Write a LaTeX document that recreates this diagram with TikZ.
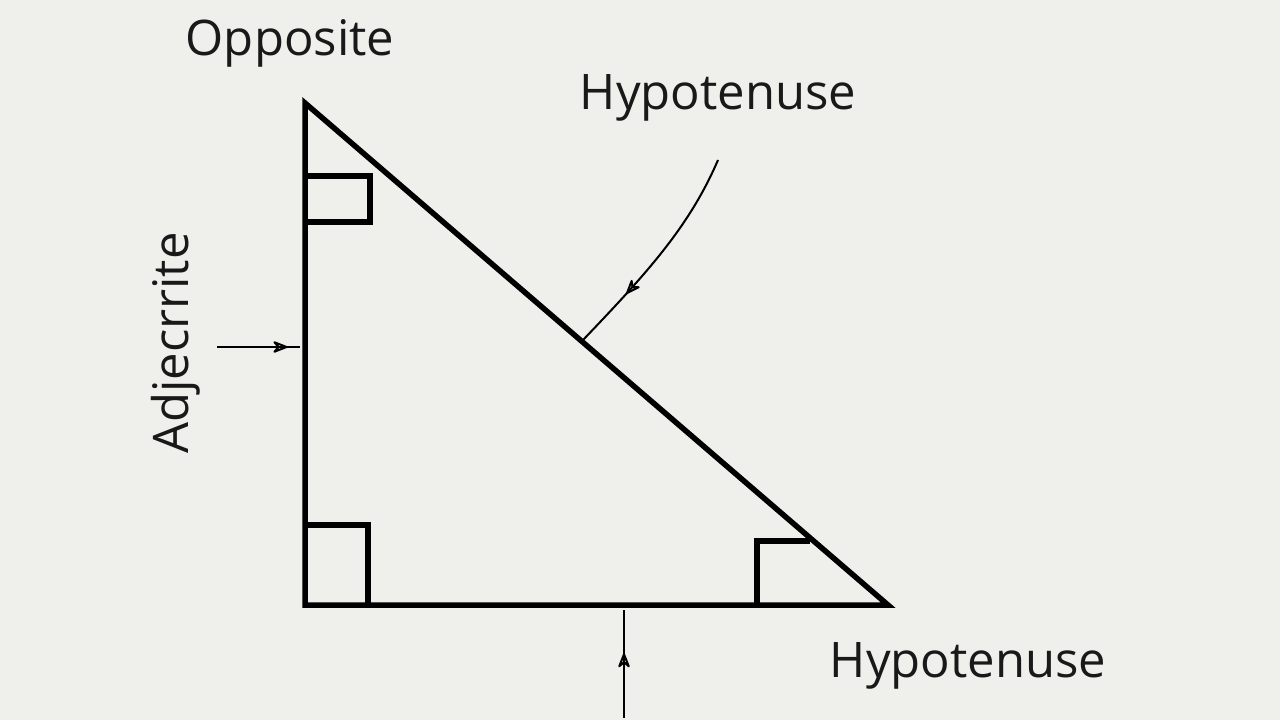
\documentclass[tikz,border=0pt]{standalone}
\usepackage{fontspec}
\setmainfont{Open Sans}
\usetikzlibrary{decorations.markings,arrows.meta}
\definecolor{bg}{HTML}{EFEFEC}
\begin{document}
\begin{tikzpicture}[x=1pt,y=-1pt,
  thick line/.style={line width=5.5pt,line join=miter},
  thin line/.style={line width=2pt},
  midarrow/.style={postaction={decorate},decoration={markings,mark=at position #1 with {\arrow{Stealth[length=18pt,width=14pt,open,round,line width=2pt]}}}},
  lbl/.style={font=\fontsize{49}{52}\selectfont,text=black!90}]
\fill[bg] (0,0) rectangle (1280,720);
\useasboundingbox (0,0) rectangle (1280,720);
\coordinate (A) at (305,103);
\coordinate (B) at (305,605);
\coordinate (C) at (888,605);
\draw[thick line] (A) -- (B) -- (C) -- cycle;
\draw[thick line] (307,176) -- (370,176) -- (370,222) -- (307,222);
\draw[thick line] (307,525) -- (368,525) -- (368,603);
\draw[thick line] (757,603) -- (757,541) -- (810,541);
\coordinate (h1) at (718,160);
\coordinate (h2) at (583,340);
\draw[thin line,midarrow=0.72] (h1) .. controls (690,225) and (650,270) .. (h2);
\coordinate (l1) at (217,347);
\coordinate (l2) at (300,347);
\draw[thin line,midarrow=0.85] (l1) -- (l2);
\coordinate (b1) at (624,718);
\coordinate (b2) at (624,610);
\draw[thin line,midarrow=0.6] (b1) -- (b2);
\node[lbl] (opp) at (290,43) {Opposite};
\node[lbl] (hyp1) at (718,98) {Hypotenuse};
\node[lbl] (hyp2) at (968,666) {Hypotenuse};
\node[lbl,rotate=90] (adj) at (176,343) {Adjecrrite};
\end{tikzpicture}
\end{document}
